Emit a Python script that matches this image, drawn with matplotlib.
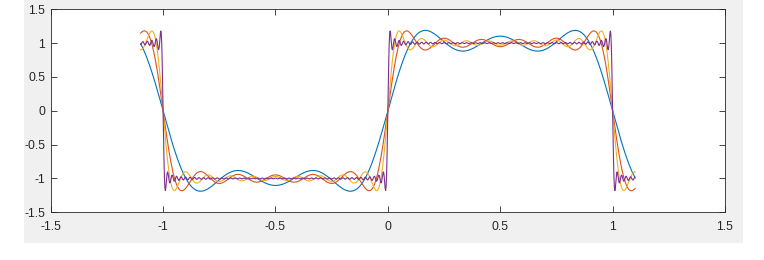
import numpy as np
import matplotlib
matplotlib.use("Agg")
import matplotlib.pyplot as plt
from matplotlib.patches import Rectangle

# -- DATA -------------------------------------------------------------------------
# Fourier partial sums of a square wave, number of odd harmonics in each curve
n_terms = [3, 6, 10, 50]
line_colors = ["#0072BD", "#D95319", "#EDB120", "#7E2F8E"]
x_range = [-1.1, 1.1]
x_ticks = [-1.5, -1, -0.5, 0, 0.5, 1, 1.5]
x_tick_labels = ["-1.5", "-1", "-0.5", "0", "0.5", "1", "1.5"]
y_ticks = [-1.5, -1, -0.5, 0, 0.5, 1, 1.5]
y_tick_labels = ["-1.5", "-1", "-0.5", "0", "0.5", "1", "1.5"]

plt.rcParams["font.family"] = ["Liberation Sans", "DejaVu Sans"]

fig = plt.figure(figsize=(7.64, 2.6), dpi=100)
fig.patch.set_facecolor("white")
# grey MATLAB figure window behind the axes
fig.patches.append(Rectangle((24 / 764, 1 - 243 / 260), (743 - 24) / 764, 243 / 260,
                             transform=fig.transFigure, facecolor="#F0F0F0",
                             edgecolor="none", zorder=-10))

ax = fig.add_axes([50.7 / 764, 1 - 212.3 / 260, 674.3 / 764, 203 / 260])
ax.set_facecolor("white")

x = np.linspace(x_range[0], x_range[1], 1101)
for n, c in zip(n_terms, line_colors):
    y = np.zeros_like(x)
    for k in range(1, n + 1):
        h = 2 * k - 1
        y += 4 / np.pi * np.sin(h * np.pi * x) / h
    ax.plot(x, y, color=c, lw=0.8)

ax.set_xlim(-1.5, 1.5)
ax.set_ylim(-1.5, 1.5)
ax.set_xticks(x_ticks)
ax.set_xticklabels(x_tick_labels)
ax.set_yticks(y_ticks)
ax.set_yticklabels(y_tick_labels)
ax.tick_params(direction="in", length=4, width=0.6, colors="#262626",
               labelsize=8.8, top=True, right=True)
ax.tick_params(axis="x", pad=6.5)
ax.tick_params(axis="y", pad=4)
for s in ax.spines.values():
    s.set_color("#262626")
    s.set_linewidth(0.6)

fig.savefig("out.png", dpi=100)
